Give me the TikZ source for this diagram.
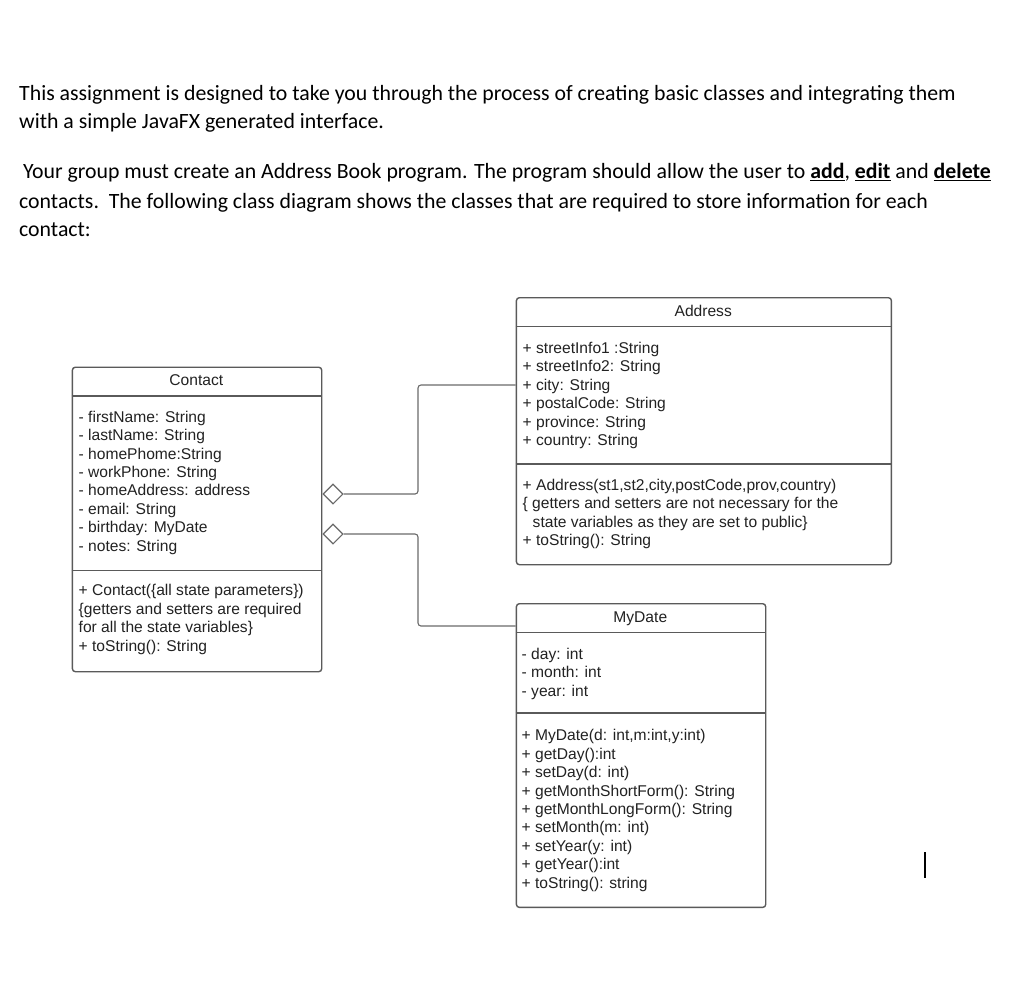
\documentclass[tikz,border=0pt]{standalone}
\usepackage{fontspec}
\setmainfont{Carlito}
\newfontfamily\umlfont{Liberation Sans}
\usetikzlibrary{shapes.geometric}
\definecolor{boxgray}{HTML}{5A5A5A}
\definecolor{linegray}{HTML}{6A6A6A}
\definecolor{umltext}{HTML}{222222}
\begin{document}
\begin{tikzpicture}[x=1pt,y=-1pt,
  bodytext/.style={anchor=base west, inner sep=0pt, font=\fontsize{21.8}{26}\selectfont},
  umltxt/.style={anchor=base west, inner sep=0pt, align=left, text=umltext, font=\umlfont\fontsize{15.6}{18.4}\selectfont},
  umltitle/.style={anchor=base, inner sep=0pt, text=umltext, font=\umlfont\fontsize{15.6}{18.4}\selectfont},
  classbox/.style={draw=boxgray, line width=1.4pt, rounded corners=3pt, inner sep=0pt, anchor=north west},
  sepline/.style={draw=boxgray, line width=1.4pt},
  conn/.style={draw=linegray, line width=1.1pt, rounded corners=3pt},
  agg/.style={diamond, draw=linegray, line width=1.1pt, fill=white, minimum width=20pt, minimum height=20pt, inner sep=0pt}
]
\useasboundingbox[fill=white] (0,0) rectangle (1024,996);

% body text
\node[bodytext] (l1) at (19,100.5) {This assignment is designed to take you through the process of creating basic classes and integrating them};
\node[bodytext] (l2) at (19,128.5) {with a simple JavaFX generated interface.};
\node[bodytext] (l3) at (23,178.5) {Your group must create an Address Book program. The program should allow the user to \underline{\textbf{add}}, \underline{\textbf{edit}} and \underline{\textbf{delete}}};
\node[bodytext] (l4) at (19,208.5) {contacts.\ \ The following class diagram shows the classes that are required to store information for each};
\node[bodytext] (l5) at (19,236.5) {contact:};

% Contact class
\node[classbox, minimum width=249.3pt, minimum height=304.5pt] (contact) at (71.7,366.5) {};
\draw[sepline] (contact.west |- 0,396) -- (contact.east |- 0,396);
\draw[sepline] (contact.west |- 0,570.5) -- (contact.east |- 0,570.5);
\node[umltitle] (contactT) at (196.3,385.5) {Contact};
\node[umltxt] (contactA) at (78.5,551) {- firstName: String\\- lastName: String\\- homePhome:String\\- workPhone: String\\- homeAddress: address\\- email: String\\- birthday: MyDate\\- notes: String};
\node[umltxt] (contactM) at (78.5,651) {+ Contact(\{all state parameters\})\\\{getters and setters are required\\for all the state variables\}\\+ toString(): String};

% Address class
\node[classbox, minimum width=375pt, minimum height=267pt] (address) at (515.7,297) {};
\draw[sepline] (address.west |- 0,326.7) -- (address.east |- 0,326.7);
\draw[sepline] (address.west |- 0,464) -- (address.east |- 0,464);
\node[umltitle] (addressT) at (703.2,316.3) {Address};
\node[umltxt] (addressA) at (522.5,445.5) {+ streetInfo1 :String\\+ streetInfo2: String\\+ city: String\\+ postalCode: String\\+ province: String\\+ country: String};
\node[umltxt] (addressM) at (522.5,545.5) {+ Address(st1,st2,city,postCode,prov,country)\\\{ getters and setters are not necessary for the\\\hspace*{10pt}state variables as they are set to public\}\\+ toString(): String};

% MyDate class
\node[classbox, minimum width=249.3pt, minimum height=303.7pt] (mydate) at (515.7,603) {};
\draw[sepline] (mydate.west |- 0,632.7) -- (mydate.east |- 0,632.7);
\draw[sepline] (mydate.west |- 0,713) -- (mydate.east |- 0,713);
\node[umltitle] (mydateT) at (640.3,622.2) {MyDate};
\node[umltxt] (mydateA) at (521.5,696) {- day: int\\- month: int\\- year: int};
\node[umltxt] (mydateM) at (521.5,888) {+ MyDate(d: int,m:int,y:int)\\+ getDay():int\\+ setDay(d: int)\\+ getMonthShortForm(): String\\+ getMonthLongForm(): String\\+ setMonth(m: int)\\+ setYear(y: int)\\+ getYear():int\\+ toString(): string};

% aggregation connectors
\node[agg] (dA) at (333,494) {};
\node[agg] (dM) at (333,534) {};
\draw[conn] (dA.east) -- (418,494) |- (address.west |- 0,385);
\draw[conn] (dM.east) -- (418,534) |- (mydate.west |- 0,626);

% text cursor
\draw[line width=2pt, black] (924.5,852) -- (924.5,877.5);
\end{tikzpicture}
\end{document}
